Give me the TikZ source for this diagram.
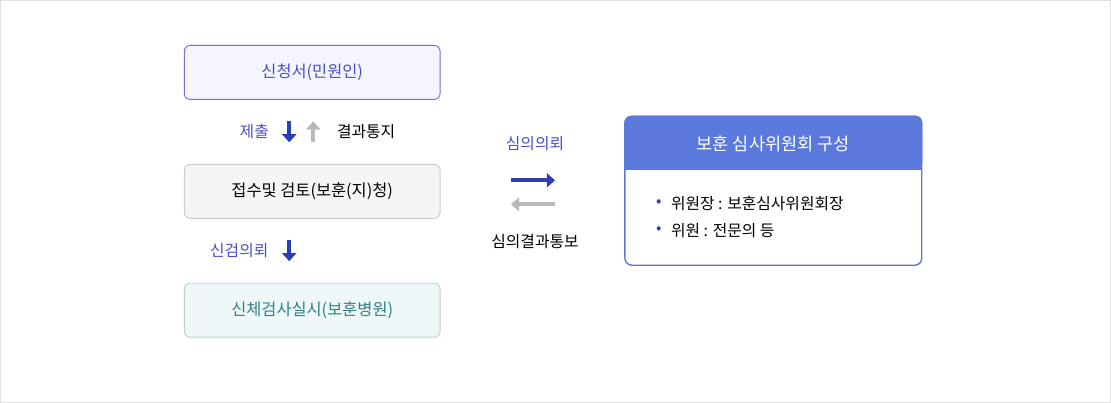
\documentclass[tikz,border=0pt]{standalone}
\usepackage{fontspec}
\setmainfont{Noto Sans CJK KR}
\usetikzlibrary{positioning}
\usetikzlibrary{arrows.meta}

\definecolor{navy}{HTML}{2B3EB5}
\definecolor{violet}{HTML}{4A4FC8}
\definecolor{headblue}{HTML}{5B79DC}
\definecolor{tealtxt}{HTML}{2E8087}
\definecolor{tealfill}{HTML}{EEF8F8}
\definecolor{violetfill}{HTML}{F5F5FE}

\tikzset{
  stepbox/.style = {draw, rounded corners=5pt, line width=0.8pt, minimum width=7.68cm, minimum height=1.62cm, font=\fontsize{14}{16}\selectfont},
  lbl/.style = {font=\fontsize{13.5}{16}\selectfont},
  bigarrow/.style = {line width=3.6pt, -{Triangle[length=7pt,width=12pt]}}
}

\begin{document}
\begin{tikzpicture}[x=0.03cm, y=-0.03cm]
			\draw[gray!25, line width=0.8pt] (0,0) rectangle (1111,402);
			
			\node[stepbox, draw=violet!80, fill=violetfill, text=violet] (apply) at (312,72) {신청서(민원인)};
			\node[stepbox, draw=gray!40, fill=gray!8, text=black] (review) at (312,191) {접수및 검토(보훈(지)청)};
			\node[stepbox, draw=tealtxt!35, fill=tealfill, text=tealtxt] (exam) at (312,310) {신체검사실시(보훈병원)};
			
			\node[lbl, text=violet] (submit) at (254,131) {제출};
			\coordinate (sdA) at (289,121);
			\coordinate (sdB) at (289,142);
			\coordinate (suA) at (313,142);
			\coordinate (suB) at (313,121);
			\draw[bigarrow, navy] (sdA) -- (sdB);
			\draw[bigarrow, gray!55] (suA) -- (suB);
			\node[lbl, text=black] (notice) at (366,131) {결과통지};
			
			\node[lbl, text=violet] (request) at (239,250) {신검의뢰};
			\coordinate (rdA) at (289,240);
			\coordinate (rdB) at (289,261);
			\draw[bigarrow, navy] (rdA) -- (rdB);
			
			\node[lbl, text=violet] (ask) at (535,143) {심의의뢰};
			\coordinate (raA) at (511,180);
			\coordinate (raB) at (555,180);
			\coordinate (laA) at (555,204);
			\coordinate (laB) at (511,204);
			\draw[bigarrow, navy] (raA) -- (raB);
			\draw[bigarrow, gray!55] (laA) -- (laB);
			\node[lbl, text=black] (reply) at (535,241) {심의결과통보};
			
			\node[draw=headblue, line width=1.2pt, fill=white, rounded corners=6pt, minimum width=8.91cm, minimum height=4.47cm] (board) at (773.5,190.5) {};
			\fill[headblue, rounded corners=6pt] (board.north west) -- (board.north east) -- ([yshift=-1.62cm]board.north east) -- ([yshift=-1.62cm]board.north west) -- cycle;
			\fill[headblue] ([yshift=-1cm]board.north west) rectangle ([yshift=-1.62cm]board.north east);
			\node[font=\fontsize{15}{17}\selectfont, text=white] (title) at (773.5,143) {보훈 심사위원회 구성};
			\node[lbl, text=navy] (dot1) at (659,203) {•};
			\node[lbl, text=black, anchor=west] (chair) at (667,203) {위원장 : 보훈심사위원회장};
			\node[lbl, text=navy] (dot2) at (659,230) {•};
			\node[lbl, text=black, anchor=west] (member) at (667,230) {위원 : 전문의 등};
\end{tikzpicture}
\end{document}
